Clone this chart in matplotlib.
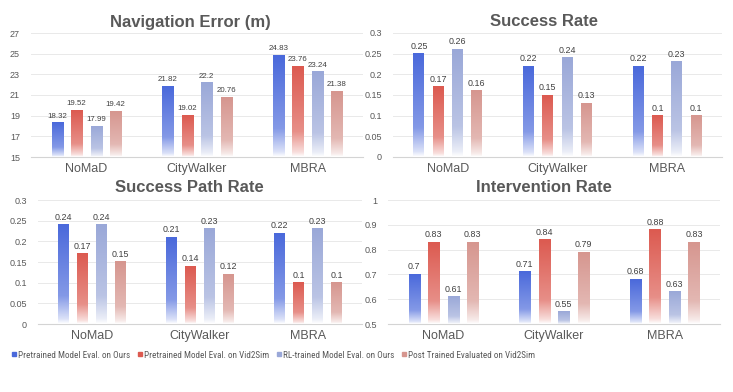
import numpy as np
import matplotlib
matplotlib.use("Agg")
import matplotlib.pyplot as plt
from matplotlib.colors import to_rgb
from matplotlib.lines import Line2D

plt.rcParams['font.family'] = ['Liberation Sans', 'DejaVu Sans']

# data
groups = ["NoMaD", "CityWalker", "MBRA"]
series = ["Pretrained Model Eval. on Ours", "Pretrained Model Eval. on Vid2Sim",
          "RL-trained Model Eval. on Ours", "Post Trained Evaluated on Vid2Sim"]
colors = ["#4a69db", "#dc5a50", "#9aa8d8", "#d6968f"]

nav_error = [[18.32, 21.82, 24.83],
             [19.52, 19.02, 23.76],
             [17.99, 22.2, 23.24],
             [19.42, 20.76, 21.38]]
success_rate = [[0.25, 0.22, 0.22],
                [0.17, 0.15, 0.1],
                [0.26, 0.24, 0.23],
                [0.16, 0.13, 0.1]]
success_path_rate = [[0.24, 0.21, 0.22],
                     [0.17, 0.14, 0.1],
                     [0.24, 0.23, 0.23],
                     [0.15, 0.12, 0.1]]
intervention_rate = [[0.7, 0.71, 0.68],
                     [0.83, 0.84, 0.88],
                     [0.61, 0.55, 0.63],
                     [0.83, 0.79, 0.83]]

W, H = 733, 392
fig = plt.figure(figsize=(W / 100, H / 100), dpi=100)


def px_axes(x0, y0, x1, y1):
    # pixel box (top-left origin) -> figure axes
    return fig.add_axes([x0 / W, 1 - y1 / H, (x1 - x0) / W, (y1 - y0) / H])


def gradient(c, n=128):
    t = np.linspace(0, 1, n)
    f = np.interp(t, [0, 0.05, 0.28, 1], [0.0, 0.2, 0.68, 1.0])
    c = np.array(to_rgb(c))
    img = 1 - f[:, None] * (1 - c[None, :])
    return img[:, None, :]


def panel(box, title, title_xy, data, ylim, step, lab_size):
    ax = px_axes(*box)
    ymin, ymax = ylim
    x = np.arange(len(groups))
    slot = 0.176
    for i, vals in enumerate(data):
        vals = np.array(vals)
        bars = ax.bar(x + (i - 1.5) * slot, vals - ymin, width=0.1, bottom=ymin,
                      color="none", edgecolor="none", zorder=3)
        img = gradient(colors[i])
        for b, v in zip(bars, vals):
            bx, bw = b.get_x(), b.get_width()
            ax.imshow(img, extent=[bx, bx + bw, ymin, v], origin="lower",
                      aspect="auto", zorder=3, interpolation="bilinear")
            ax.annotate(f"{v:g}", (bx + bw / 2, v), xytext=(0, 2.2),
                        textcoords="offset points", ha="center", va="bottom",
                        fontsize=lab_size, color="#404040")
    ax.set_xlim(-0.5, 2.5)
    ax.set_ylim(ymin, ymax)
    ticks = np.round(np.arange(ymin, ymax + step / 2, step), 4)
    ax.set_yticks(ticks)
    ax.set_yticklabels([f"{t:g}" for t in ticks])
    ax.set_xticks(x)
    ax.set_xticklabels(groups)
    ax.tick_params(axis="y", length=0, labelsize=6.5, labelcolor="#595959", pad=8)
    ax.tick_params(axis="x", length=0, labelsize=9, labelcolor="#595959", pad=4)
    ax.grid(axis="y", color="#e9e9e9", lw=0.7, zorder=0)
    for s in ["left", "right", "top"]:
        ax.spines[s].set_visible(False)
    ax.spines["bottom"].set_color("#d4d4d4")
    ax.spines["bottom"].set_linewidth(0.8)
    ax.set_axisbelow(True)
    fig.text(title_xy[0] / W, 1 - title_xy[1] / H, title, ha="center", va="center",
             fontsize=12, fontweight="bold", color="#595959")
    return ax


panel((31, 33, 363, 157), "Navigation Error (m)", (190, 22), nav_error, (15, 27), 2, 5.7)
panel((393, 33, 722, 157), "Success Rate", (544, 22), success_rate, (0, 0.3), 0.05, 6.4)
panel((38, 200, 362, 324), "Success Path Rate", (189, 187), success_path_rate, (0, 0.3), 0.05, 6.4)
panel((388, 200, 720, 324), "Intervention Rate", (544, 187), intervention_rate, (0.5, 1.0), 0.1, 6.4)

handles = [Line2D([], [], ls="none", marker="s", markersize=3.4, color=c) for c in colors]
leg = fig.legend(handles, series, loc="center left", bbox_to_anchor=(8 / W, 1 - 355 / H),
                 ncol=4, frameon=False, handlelength=0.5, handletextpad=0.2,
                 columnspacing=0.8, borderaxespad=0,
                 prop={"family": ["Roboto Condensed", "Roboto"], "size": 6.6})
for t in leg.get_texts():
    t.set_color("#595959")

fig.savefig("out.png", dpi=100)
